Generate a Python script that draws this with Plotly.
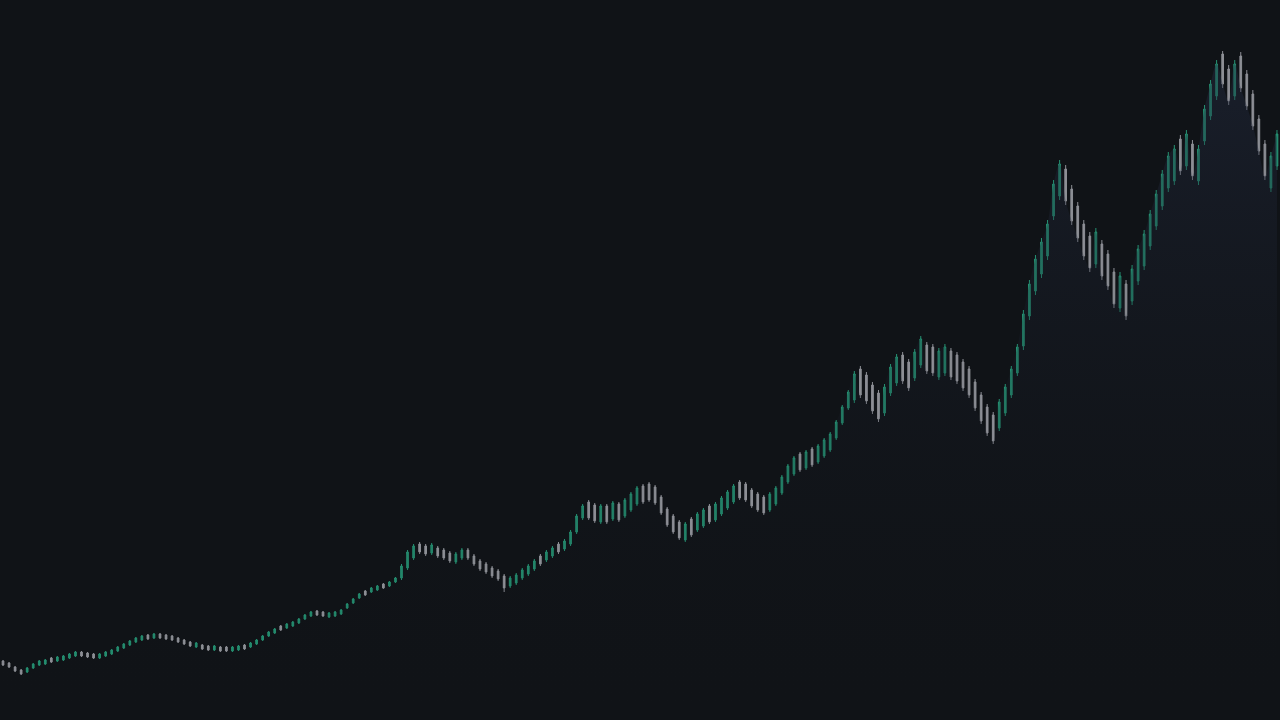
import plotly.graph_objects as go

# OHLC values (price units ~ pixels above the bottom edge)
opens = [
    59, 57, 53, 50, 48, 52, 55, 56, 62, 59,
    60, 62, 64, 68, 67, 66, 62, 64, 66, 69,
    72, 75, 78, 80, 85, 82, 86, 85, 84, 82,
    80, 78, 73, 75, 74, 70, 73, 73, 69, 70,
    75, 73, 76, 80, 84, 87, 94, 92, 94, 97,
    101, 104, 109, 108, 103, 104, 106, 112, 117, 122,
    129, 128, 130, 136, 134, 138, 142, 152, 162, 176,
    174, 167, 172, 170, 167, 158, 162, 170, 164, 159,
    156, 152, 149, 144, 134, 137, 142, 146, 151, 164,
    160, 164, 176, 171, 176, 188, 202, 218, 215, 198,
    214, 201, 216, 204, 210, 216, 234, 236, 233, 223,
    211, 204, 198, 180, 201, 190, 194, 214, 200, 206,
    212, 218, 238, 236, 230, 226, 223, 210, 216, 227,
    238, 246, 266, 252, 271, 258, 264, 270, 282, 297,
    312, 320, 351, 345, 335, 327, 307, 327, 337, 365,
    358, 342, 355, 375, 373, 343, 347, 369, 365, 358,
    351, 338, 325, 313, 305, 292, 307, 325, 347, 374,
    404, 429, 446, 464, 504, 524, 551, 531, 514, 496,
    484, 456, 476, 466, 448, 412, 436, 419, 439, 454,
    474, 494, 514, 532, 539, 581, 554, 576, 539, 579,
    604, 624, 666, 651, 624, 664, 646, 626, 601, 576,
    532, 554,
]
closes = [
    55, 53, 49, 46, 52, 56, 59, 60, 58, 63,
    64, 66, 68, 64, 63, 62, 66, 68, 70, 73,
    76, 79, 82, 84, 81, 86, 82, 81, 80, 78,
    76, 74, 77, 71, 70, 74, 69, 69, 73, 74,
    71, 77, 80, 84, 88, 91, 90, 96, 98, 101,
    105, 108, 105, 104, 107, 108, 110, 116, 121, 126,
    125, 132, 134, 132, 138, 142, 154, 168, 174, 168,
    166, 175, 164, 162, 159, 166, 170, 162, 156, 151,
    148, 144, 141, 132, 142, 145, 150, 154, 159, 156,
    168, 172, 168, 179, 188, 204, 214, 202, 199, 214,
    198, 217, 200, 220, 226, 232, 218, 220, 217, 207,
    195, 188, 182, 196, 185, 206, 210, 198, 216, 222,
    228, 234, 222, 220, 214, 210, 207, 226, 232, 243,
    254, 262, 250, 268, 255, 274, 280, 286, 298, 313,
    328, 346, 325, 319, 309, 301, 333, 353, 363, 339,
    332, 368, 381, 349, 347, 369, 373, 343, 339, 332,
    325, 312, 299, 287, 279, 318, 333, 351, 373, 406,
    436, 461, 478, 496, 536, 556, 519, 499, 482, 464,
    452, 488, 444, 434, 416, 444, 404, 451, 471, 486,
    506, 526, 546, 564, 571, 549, 586, 544, 571, 611,
    636, 656, 636, 619, 656, 632, 614, 594, 569, 544,
    564, 586,
]
highs = [
    60, 58, 54, 51, 53, 57, 60, 61, 63, 64,
    65, 67, 69, 69, 68, 67, 67, 69, 71, 74,
    77, 80, 83, 85, 86, 87, 87, 86, 85, 83,
    81, 79, 78, 76, 75, 75, 74, 74, 74, 75,
    76, 78, 81, 85, 89, 92, 95, 97, 99, 102,
    106, 109, 110, 109, 108, 109, 111, 117, 122, 127,
    130, 133, 135, 137, 139, 143, 156, 170, 176, 178,
    176, 177, 174, 172, 169, 168, 172, 172, 166, 161,
    158, 154, 151, 146, 144, 147, 152, 156, 161, 166,
    170, 174, 178, 181, 190, 206, 216, 220, 217, 216,
    216, 219, 218, 222, 228, 234, 236, 238, 235, 225,
    213, 206, 200, 198, 203, 208, 212, 216, 218, 224,
    230, 236, 240, 238, 232, 228, 225, 228, 234, 245,
    256, 264, 268, 270, 273, 276, 282, 288, 300, 315,
    330, 349, 354, 348, 338, 330, 336, 356, 366, 368,
    361, 371, 384, 378, 376, 372, 376, 372, 368, 361,
    354, 341, 328, 316, 308, 321, 336, 354, 376, 410,
    440, 465, 482, 500, 540, 560, 555, 535, 518, 500,
    488, 492, 480, 470, 452, 448, 440, 455, 475, 490,
    510, 530, 550, 568, 575, 585, 590, 580, 575, 615,
    640, 660, 669, 655, 660, 668, 650, 630, 605, 580,
    568, 590,
]
lows = [
    54, 52, 48, 45, 47, 51, 54, 55, 57, 58,
    59, 61, 63, 63, 62, 61, 61, 63, 65, 68,
    71, 74, 77, 79, 80, 81, 81, 80, 79, 77,
    75, 73, 72, 70, 69, 69, 68, 68, 68, 69,
    70, 72, 75, 79, 83, 86, 89, 91, 93, 96,
    100, 103, 104, 103, 102, 103, 105, 111, 116, 121,
    124, 127, 129, 131, 133, 137, 140, 150, 160, 166,
    164, 165, 162, 160, 157, 156, 160, 160, 154, 149,
    146, 142, 139, 128, 132, 135, 140, 144, 149, 154,
    158, 162, 166, 169, 174, 186, 200, 200, 197, 196,
    196, 199, 198, 202, 208, 214, 216, 218, 215, 205,
    193, 186, 180, 178, 183, 188, 192, 196, 198, 204,
    210, 216, 220, 218, 212, 208, 205, 208, 214, 225,
    236, 244, 248, 250, 253, 256, 262, 268, 280, 295,
    310, 317, 322, 316, 306, 298, 304, 324, 334, 336,
    329, 339, 352, 346, 344, 340, 344, 340, 336, 329,
    322, 309, 296, 284, 276, 289, 304, 322, 344, 370,
    400, 425, 442, 460, 500, 520, 515, 495, 478, 460,
    448, 452, 440, 430, 412, 408, 400, 415, 435, 450,
    470, 490, 510, 528, 535, 545, 550, 540, 535, 575,
    600, 620, 632, 615, 620, 628, 610, 590, 565, 540,
    528, 550,
]
candle_index = list(range(len(closes)))

UP = "#29a983"
DOWN = "#a3a5ac"
BG = "#101317"

fig = go.Figure()

# soft glow below the price path
fig.add_trace(go.Scatter(
    x=candle_index, y=closes, mode="lines", line=dict(width=0, shape="spline", smoothing=1.0),
    fill="tozeroy",
    fillgradient=dict(
        type="vertical",
        colorscale=[[0, "rgba(16,19,23,0)"], [1, "rgba(36,44,66,0.45)"]],
    ),
    hoverinfo="skip", showlegend=False,
))

fig.add_trace(go.Candlestick(
    x=candle_index, open=opens, high=highs, low=lows, close=closes,
    increasing=dict(line=dict(color=UP, width=1), fillcolor=UP),
    decreasing=dict(line=dict(color=DOWN, width=1), fillcolor=DOWN),
    whiskerwidth=0, showlegend=False, opacity=0.85,
))

fig.update_layout(
    width=1280, height=720,
    margin=dict(l=0, r=0, t=0, b=0),
    paper_bgcolor=BG, plot_bgcolor=BG,
    boxgap=0.6,
    xaxis=dict(visible=False, range=[-0.5, len(closes) - 0.5], rangeslider=dict(visible=False)),
    yaxis=dict(visible=False, range=[0, 720]),
    showlegend=False,
)

fig.write_html(
    "out.html",
    config={"displayModeBar": False},
    post_script="document.body.style.margin='0';document.body.style.overflow='hidden';document.body.style.background='#101317';",
)
